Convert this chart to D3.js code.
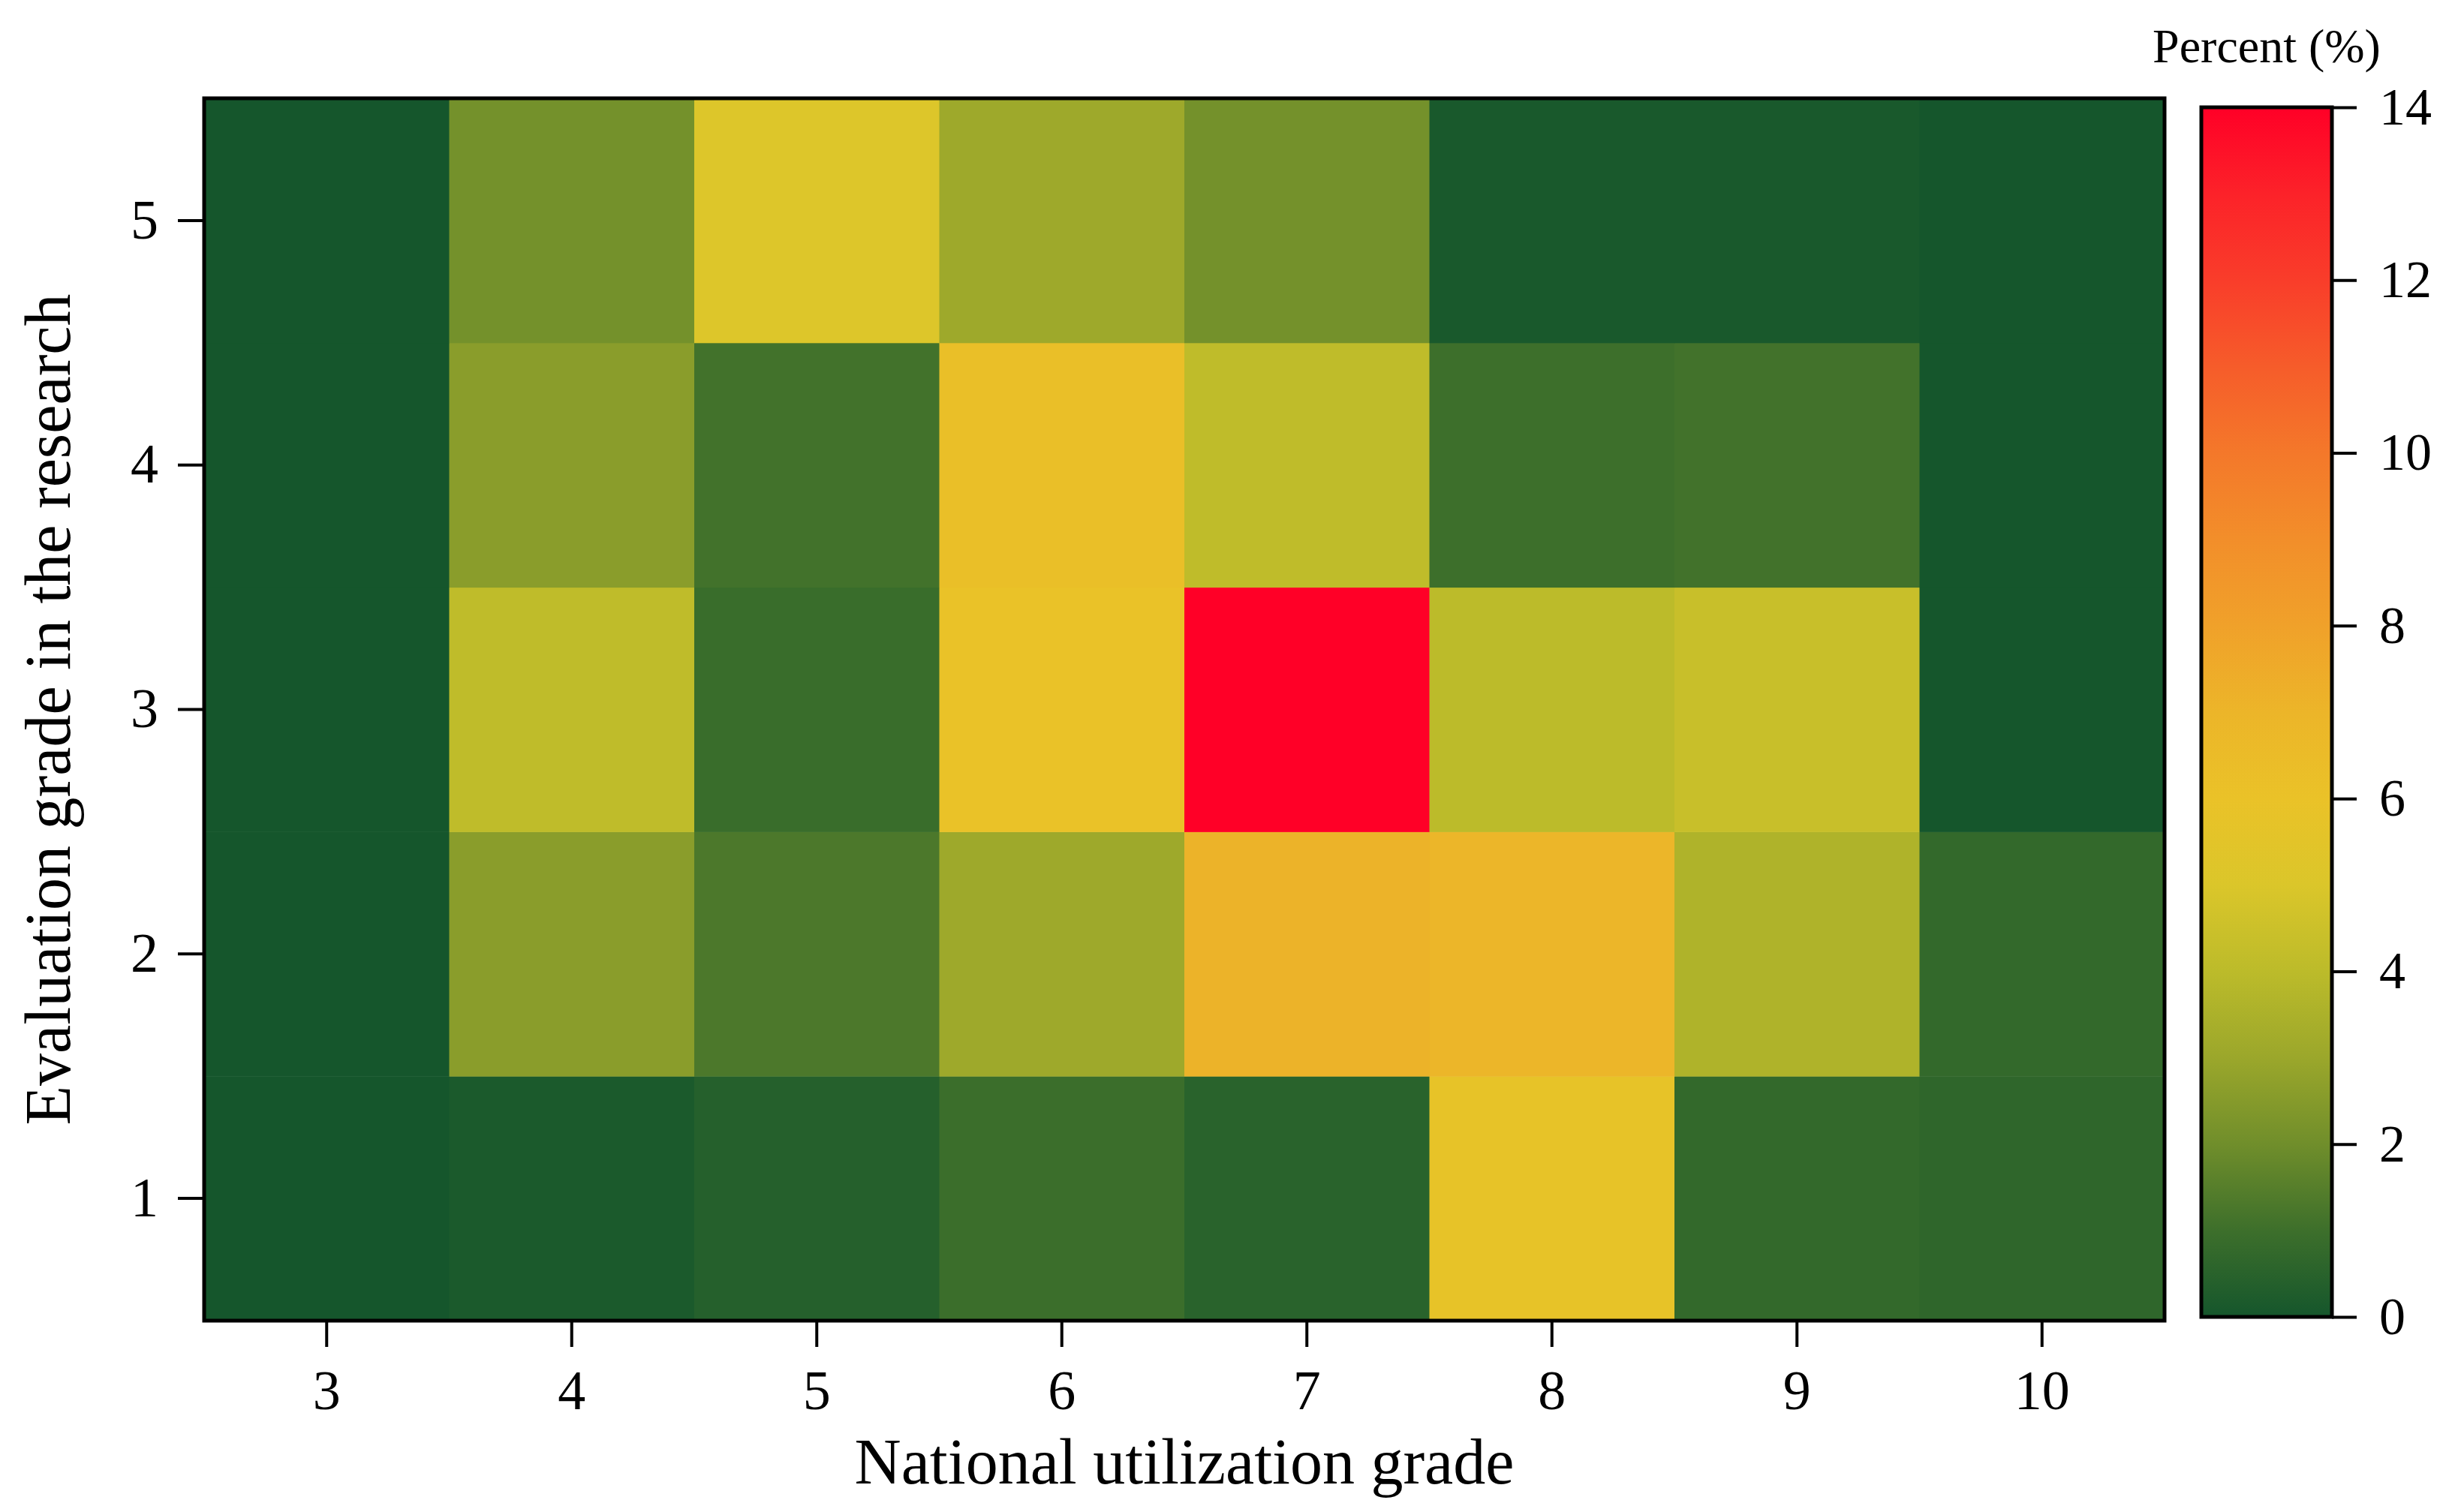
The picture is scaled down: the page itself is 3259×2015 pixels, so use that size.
<!DOCTYPE html>
<html>
<head>
<meta charset="utf-8">
<script src="https://cdn.jsdelivr.net/npm/d3@7"></script>
<style>
  body { margin: 0; background: #fff; }
  text { font-family: "Liberation Serif", "Times New Roman", serif; fill: #000; }
</style>
</head>
<body>
<script>
// National utilization grade (columns) and evaluation grade (rows)
const xGrades = [3, 4, 5, 6, 7, 8, 9, 10];
const yGrades = [1, 2, 3, 4, 5];

// Percent (%) for each evaluation grade, read across the national grades
const grade1 = [0, 0.15, 0.4, 0.95, 0.5, 5.8, 0.75, 0.65];
const grade2 = [0, 2.6, 1.3, 3.1, 7.1, 6.9, 3.6, 0.75];
const grade3 = [0, 4.1, 0.9, 6.0, 14.0, 4.0, 4.4, 0];
const grade4 = [0, 2.6, 1.1, 6.2, 4.1, 1.0, 1.1, 0];
const grade5 = [0, 2.1, 5.1, 3.1, 2.1, 0.1, 0.1, 0];

const colorTicks = [0, 2, 4, 6, 8, 10, 12, 14];

// colour ramp of the legend, one stop per unit
const rampStops = [0, 1, 2, 3, 4, 5, 6, 7, 8, 9, 10, 11, 12, 13, 14];
const rampColors = ["#15562c", "#3d6f2b", "#708e2b", "#9ba72b", "#bcbb2a",
	"#dbc62a", "#eac228", "#ecb529", "#f0a12a", "#f28e2a", "#f4782a",
	"#f65c2a", "#f93d2a", "#fc2229", "#ff0027"];

let rows = [grade1, grade2, grade3, grade4, grade5];
let cells = [];
for (let r = 0; r < yGrades.length; ++r)
	for (let c = 0; c < xGrades.length; ++c)
		cells.push({x: xGrades[c], y: yGrades[r], v: rows[r][c]});

let svg = d3.select("body")
			.append("svg")
			.attr("width", 3259)
			.attr("height", 2015);

// Plot box
let plotLeft = 272, plotRight = 2884, plotTop = 131, plotBottom = 1760;

let x = d3.scaleBand().domain(xGrades).range([plotLeft, plotRight]);
let y = d3.scaleBand().domain(yGrades.slice().reverse()).range([plotTop, plotBottom]);
let color = d3.scaleLinear().domain(rampStops).range(rampColors);

// Cells
svg.append("g")
   .selectAll("rect")
   .data(cells)
   .enter()
   .append("rect")
   .attr("x", d => x(d.x))
   .attr("y", d => y(d.y))
   .attr("width", x.bandwidth() + 0.5)
   .attr("height", y.bandwidth() + 0.5)
   .attr("fill", d => color(d.v));

// Frame
svg.append("rect")
   .attr("x", plotLeft)
   .attr("y", plotTop)
   .attr("width", plotRight - plotLeft)
   .attr("height", plotBottom - plotTop)
   .attr("fill", "none")
   .attr("stroke", "#000")
   .attr("stroke-width", 5);

// Axes
let xAxis = svg.append("g")
			   .attr("transform", `translate(0,${plotBottom + 2})`)
			   .call(d3.axisBottom(x).tickSize(33).tickPadding(30));
let yAxis = svg.append("g")
			   .attr("transform", `translate(${plotLeft - 2},0)`)
			   .call(d3.axisLeft(y).tickSize(33).tickPadding(26));

[xAxis, yAxis].forEach(function(a) {
	a.select(".domain").remove();
	a.selectAll("line").attr("stroke", "#000").attr("stroke-width", 4);
	a.selectAll("text").attr("font-size", 74).attr("font-family", "Liberation Serif");
});

// Axis titles
svg.append("text")
   .attr("x", (plotLeft + plotRight) / 2)
   .attr("y", 1977)
   .attr("text-anchor", "middle")
   .attr("font-size", 86)
   .text("National utilization grade");

svg.append("text")
   .attr("transform", `translate(93,${(plotTop + plotBottom) / 2}) rotate(-90)`)
   .attr("text-anchor", "middle")
   .attr("font-size", 86)
   .text("Evaluation grade in the research");

// Colour bar
let cbLeft = 2933, cbRight = 3107, cbTop = 143, cbBottom = 1755;
let cy = d3.scaleLinear().domain([0, 14]).range([cbBottom, cbTop]);

let grad = svg.append("defs")
			  .append("linearGradient")
			  .attr("id", "ramp")
			  .attr("x1", 0).attr("y1", 1)
			  .attr("x2", 0).attr("y2", 0);
grad.selectAll("stop")
	.data(rampStops)
	.enter()
	.append("stop")
	.attr("offset", d => d / 14)
	.attr("stop-color", d => color(d));

svg.append("rect")
   .attr("x", cbLeft)
   .attr("y", cbTop)
   .attr("width", cbRight - cbLeft)
   .attr("height", cbBottom - cbTop)
   .attr("fill", "url(#ramp)")
   .attr("stroke", "#000")
   .attr("stroke-width", 5);

let cAxis = svg.append("g")
			   .attr("transform", `translate(${cbRight},0)`)
			   .call(d3.axisRight(cy).tickValues(colorTicks).tickSize(33).tickPadding(30));
cAxis.select(".domain").remove();
cAxis.selectAll("line").attr("stroke", "#000").attr("stroke-width", 4);
cAxis.selectAll("text").attr("font-size", 70).attr("font-family", "Liberation Serif");

svg.append("text")
   .attr("x", (cbLeft + cbRight) / 2)
   .attr("y", 83)
   .attr("text-anchor", "middle")
   .attr("font-size", 64)
   .text("Percent (%)");
</script>
</body>
</html>
